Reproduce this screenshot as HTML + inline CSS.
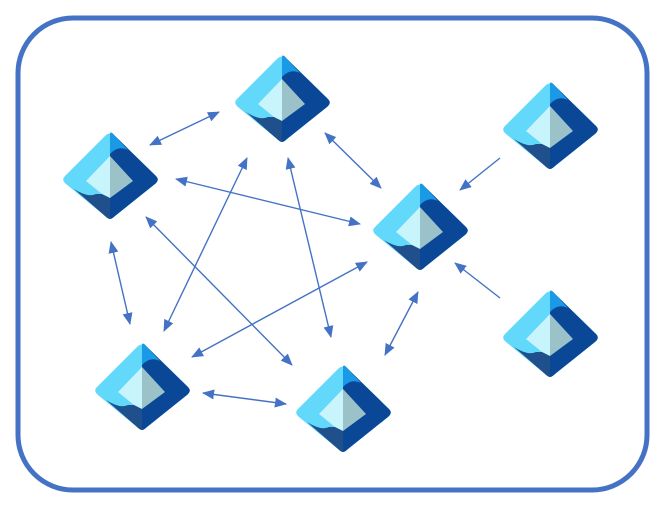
<!DOCTYPE html>
<html><head><style>
html,body{margin:0;padding:0;background:#fff;}
svg{display:block;}
</style></head><body>
<svg width="666" height="509" viewBox="0 0 666 509" xmlns="http://www.w3.org/2000/svg">
<defs>
<marker id="a" viewBox="0 0 12 10" refX="11" refY="5" markerWidth="12" markerHeight="10" markerUnits="userSpaceOnUse" orient="auto-start-reverse">
<path d="M0,0 L12,5 L0,10 Z" fill="#4472c4"/>
</marker>
<g id="ic">
<path d="M44,3 Q48,0 52,3 L94,44 Q98,48 93,52 L53,84 Q48,88 43,84 L4,52 Q-1,48 3,44 Z" fill="#62d8fb"/>
<path d="M48,1 Q50,0 52,3 L94,44 Q98,48 93,52 L53,84 Q50,87 48,87 Z" fill="#0a4897"/>
<path d="M48,1 Q50,0 52,3 L66,18 Q56,13 48,22 Z" fill="#1a9ae6"/>
<path d="M12,57 Q26,66 34,62 L48,62 L48,87 Q46,87 43,84 Z" fill="#1f508c"/>
<path d="M48,24 L24,49 L40,62 L48,66 Z" fill="#c8f4fc"/>
<path d="M48,24 L71,49 L48,66 Z" fill="#9bc2c8"/>
</g>
</defs>
<rect x="18" y="18" width="629" height="472" rx="55" ry="55" fill="none" stroke="#4472c4" stroke-width="5"/>
<g stroke="#4472c4" stroke-width="1.4" fill="none" marker-start="url(#a)" marker-end="url(#a)">
<line x1="150" y1="145" x2="219" y2="112"/>
<line x1="176" y1="179" x2="360" y2="224"/>
<line x1="146" y1="217" x2="292" y2="365"/>
<line x1="247" y1="158" x2="164" y2="331"/>
<line x1="288" y1="158" x2="331" y2="337"/>
<line x1="111" y1="242" x2="130" y2="324"/>
<line x1="192" y1="357" x2="367" y2="262"/>
<line x1="203" y1="393" x2="286" y2="404"/>
<line x1="325" y1="133" x2="381" y2="188"/>
<line x1="385" y1="355" x2="418" y2="292"/>
</g>
<g stroke="#4472c4" stroke-width="1.4" fill="none" marker-end="url(#a)">
<line x1="500" y1="158" x2="460" y2="190"/>
<line x1="500" y1="298" x2="455" y2="263"/>
</g>
<use href="#ic" x="234" y="55"/>
<use href="#ic" x="62" y="132"/>
<use href="#ic" x="502" y="82"/>
<use href="#ic" x="372" y="183"/>
<use href="#ic" x="502" y="290"/>
<use href="#ic" x="94" y="343"/>
<use href="#ic" x="295" y="365"/>
</svg>
</body></html>
